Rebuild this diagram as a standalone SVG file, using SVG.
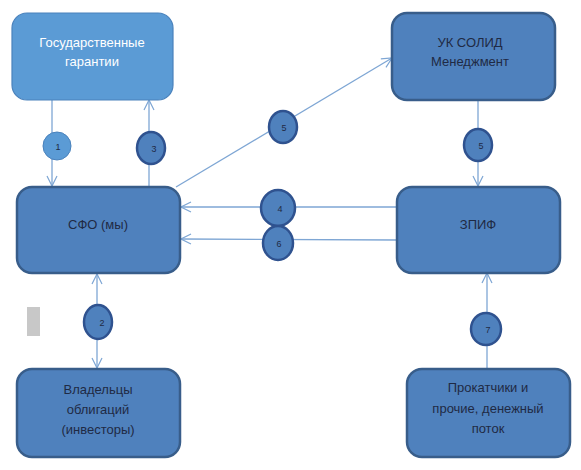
<svg xmlns="http://www.w3.org/2000/svg" width="581" height="470" viewBox="0 0 581 470">
<defs>
<marker id="arr" viewBox="0 0 12 12" refX="11" refY="6" markerWidth="12" markerHeight="12" markerUnits="userSpaceOnUse" orient="auto-start-reverse">
<path d="M1,1 L11,6 L1,11" fill="none" stroke="#7EA6D4" stroke-width="1.2"/>
</marker>
</defs>
<style>
.box{fill:#4F81BD;stroke:#385D8A;stroke-width:2.5}
.light{fill:#5B9BD5;stroke:#4A82BC;stroke-width:1.2}
.t{font-family:"Liberation Sans",Arial,sans-serif;font-size:13px;fill:#1F2A44;text-anchor:middle}
.tw{fill:#FFFFFF}
.c{fill:#4F81BD;stroke:#2F528F;stroke-width:2.5}
.cl{fill:#5B9BD5;stroke:#4A82BC;stroke-width:1}
.n{font-family:"Liberation Sans",Arial,sans-serif;font-size:9px;fill:#1F2A44;text-anchor:middle}
.ln{stroke:#7EA6D4;stroke-width:1.3;fill:none}
</style>
<rect width="581" height="470" fill="#FFFFFF"/>
<rect x="27" y="307" width="13" height="29" fill="#C8C8C8"/>
<g id="connectors">
<line class="ln" x1="52" y1="100" x2="52" y2="186" marker-end="url(#arr)"/>
<line class="ln" x1="149" y1="186" x2="149" y2="100" marker-end="url(#arr)"/>
<line class="ln" x1="176" y1="187" x2="392" y2="58" marker-end="url(#arr)"/>
<line class="ln" x1="478" y1="100" x2="478" y2="186" marker-end="url(#arr)"/>
<line class="ln" x1="397" y1="207" x2="181" y2="207" marker-end="url(#arr)"/>
<line class="ln" x1="397" y1="240" x2="181" y2="239" marker-end="url(#arr)"/>
<line class="ln" x1="97" y1="274" x2="97" y2="368" marker-start="url(#arr)" marker-end="url(#arr)"/>
<line class="ln" x1="487" y1="368" x2="487" y2="273" marker-end="url(#arr)"/>
<g id="c1"><circle class="cl" cx="57" cy="146" r="14"/><text class="n tw" x="58" y="150">1</text></g>
<g id="c3"><ellipse class="c" cx="151" cy="148" rx="14" ry="16"/><text class="n" x="154" y="152">3</text></g>
<g id="c5a"><ellipse class="c" cx="283" cy="127" rx="14" ry="16"/><text class="n" x="284" y="131">5</text></g>
<g id="c5b"><ellipse class="c" cx="478" cy="145" rx="14" ry="16"/><text class="n" x="481" y="149">5</text></g>
<g id="c4"><ellipse class="c" cx="278" cy="208" rx="17" ry="18"/><text class="n" x="280" y="212">4</text></g>
<g id="c6"><ellipse class="c" cx="278" cy="243" rx="15" ry="17"/><text class="n" x="279" y="247">6</text></g>
<g id="c2"><ellipse class="c" cx="98" cy="322" rx="14" ry="17"/><text class="n" x="102" y="326">2</text></g>
<g id="c7"><ellipse class="c" cx="486" cy="329" rx="15" ry="16"/><text class="n" x="488" y="333">7</text></g>
</g>
<g id="gos">
<rect class="light" x="12" y="13" width="161" height="87" rx="15"/>
<text class="t tw" x="92" y="47">Государственные</text>
<text class="t tw" x="92" y="66">гарантии</text>
</g>
<g id="sfo">
<rect class="box" x="17" y="187" width="163" height="86" rx="15"/>
<text class="t" x="98" y="229">СФО (мы)</text>
</g>
<g id="uk">
<rect class="box" x="392" y="13" width="163" height="87" rx="15"/>
<text class="t" x="470" y="47">УК СОЛИД</text>
<text class="t" x="470" y="66">Менеджмент</text>
</g>
<g id="zpif">
<rect class="box" x="397" y="187" width="163" height="86" rx="15"/>
<text class="t" x="478" y="229">ЗПИФ</text>
</g>
<g id="owners">
<rect class="box" x="17" y="369" width="163" height="88" rx="15"/>
<text class="t" x="98" y="394">Владельцы</text>
<text class="t" x="98" y="414">облигаций</text>
<text class="t" x="98" y="434">(инвесторы)</text>
</g>
<g id="rent">
<rect class="box" x="407" y="369" width="163" height="88" rx="15"/>
<text class="t" x="488" y="392">Прокатчики и</text>
<text class="t" x="488" y="413">прочие, денежный</text>
<text class="t" x="488" y="433">поток</text>
</g>
</svg>
